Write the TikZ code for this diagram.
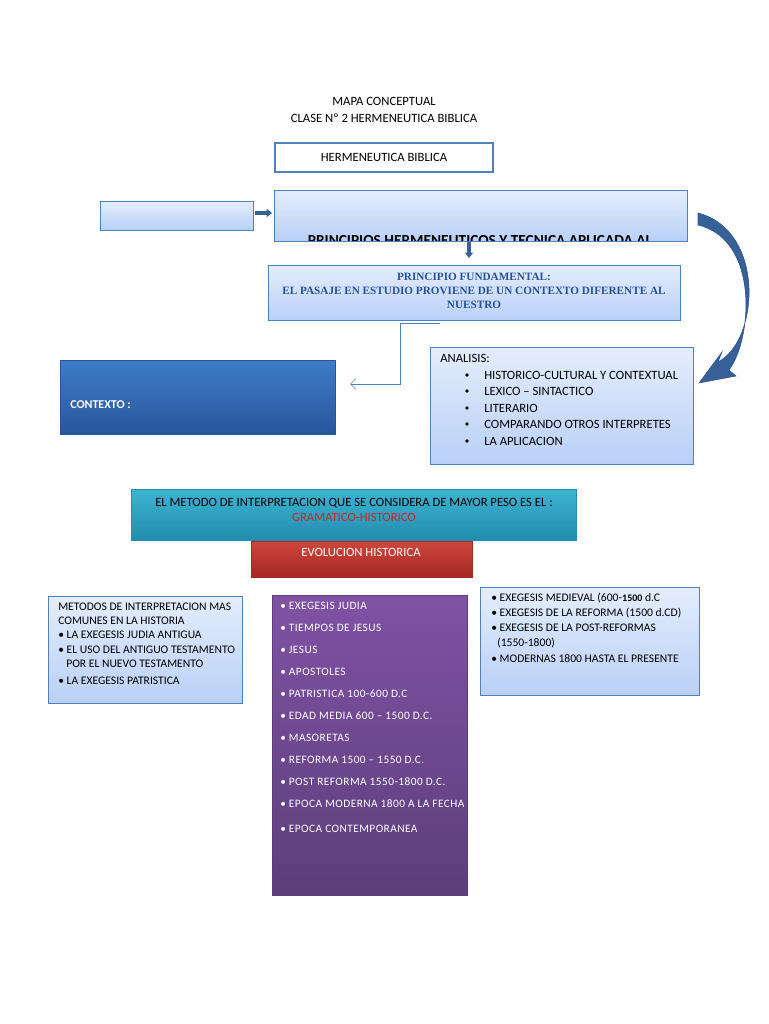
\documentclass[tikz,border=0pt]{standalone}
\usepackage{fontspec}
\setmainfont{Carlito}
\newfontfamily\serifb{Liberation Serif}
\usetikzlibrary{arrows.meta}
\definecolor{bord}{RGB}{79,129,189}
\definecolor{lbt}{RGB}{228,237,253}
\definecolor{lbb}{RGB}{185,208,246}
\definecolor{darr}{RGB}{55,96,150}
\definecolor{pft}{RGB}{40,80,150}
\definecolor{ctt}{RGB}{62,125,200}
\definecolor{ctb}{RGB}{40,85,155}
\definecolor{tet}{RGB}{60,180,210}
\definecolor{teb}{RGB}{35,140,175}
\definecolor{ret}{RGB}{205,70,60}
\definecolor{reb}{RGB}{165,40,35}
\definecolor{put}{RGB}{128,82,165}
\definecolor{pub}{RGB}{92,62,122}
\definecolor{gred}{RGB}{200,40,40}
\begin{document}
\begin{tikzpicture}[x=0.75pt,y=-0.75pt,
 lb/.style={draw=bord,line width=0.6pt,top color=lbt,bottom color=lbb},
 txt/.style={font=\fontsize{9.5}{11}\selectfont,inner sep=0pt},
 bul/.style={txt,anchor=west}]
\useasboundingbox (0,0) rectangle (768,1024);
\node[txt] (t1) at (384,101) {MAPA CONCEPTUAL};
\node[txt] (t2) at (384,118) {CLASE Nº 2 HERMENEUTICA BIBLICA};
% hermeneutica
\draw[draw=bord,line width=1.3pt,fill=white] (275,143) rectangle (493,172);
\node[txt] (hb) at (384,157) {HERMENEUTICA BIBLICA};
% small left box
\draw[lb] (100,201) rectangle (253,230);
\coordinate (sl) at (255,213); \coordinate (sr) at (272,213);
\draw[line width=2.4pt,darr,-{Triangle[length=4pt,width=6pt]}] (sl) -- (sr);
% principios
\draw[lb] (274,190) rectangle (687,241);
\begin{scope}
\clip (274,190) rectangle (687,240);
\node[font=\fontsize{11.5}{12}\selectfont\bfseries,inner sep=0pt] (pr) at (480,241) {PRINCIPIOS HERMENEUTICOS Y TECNICA APLICADA AL};
\end{scope}
\coordinate (d1) at (469,242); \coordinate (d2) at (469,258);
\draw[line width=2.4pt,darr,-{Triangle[length=4pt,width=6pt]}] (d1) -- (d2);
% principio fundamental
\draw[lb] (268,265) rectangle (680,320);
\node[align=center,font=\serifb\fontsize{8.4}{10.5}\selectfont\bfseries,text=pft,inner sep=0pt] (pf) at (474,291) {PRINCIPIO FUNDAMENTAL:\\EL PASAJE EN ESTUDIO PROVIENE DE UN CONTEXTO DIFERENTE AL\\NUESTRO};
% connector
\coordinate (c0) at (440,323); \coordinate (c1) at (350,384);
\draw[bord,line width=0.5pt,-{Straight Barb[length=4pt]}] (c0) -- (400,323) -- (400,384) -- (c1);
% contexto
\draw[draw=ctb,line width=0.6pt,top color=ctt,bottom color=ctb] (60,360) rectangle (335,434);
\node[txt,anchor=west,text=white,font=\fontsize{9}{10}\selectfont\bfseries] (ctx) at (70,405) {CONTEXTO :};
% analisis
\draw[lb] (430,347) rectangle (693,464);
\node[bul] (a0) at (440,358) {ANALISIS:};
\foreach \y/\t in {375/HISTORICO-CULTURAL Y CONTEXTUAL,391/LEXICO -- SINTACTICO,408/LITERARIO,424/COMPARANDO OTROS INTERPRETES,441/LA APLICACION}{
 \fill (467,\y) circle (1.8);
 \node[bul] at (484,\y) {\t};}
% curved block arrow
\fill[darr,draw=ctb,line width=0.4pt]
 (698,213) .. controls (765,230) and (760,340) .. (718,362)
 -- (722,352) -- (699,383) -- (736,376) -- (729,370)
 .. controls (752,340) and (760,240) .. (698,225) -- cycle;
% teal
\draw[draw=teb,line width=0.6pt,top color=tet,bottom color=teb] (131,489) rectangle (576,540);
\node[txt] (m1) at (354,503) {EL METODO DE INTERPRETACION QUE SE CONSIDERA DE MAYOR PESO ES EL :};
\node[txt,text=gred] (m2) at (354,517) {GRAMATICO-HISTORICO};
% red
\draw[draw=reb,line width=0.6pt,top color=ret,bottom color=reb] (251,541) rectangle (472,577);
\node[txt,text=white] (ev) at (361,552) {EVOLUCION HISTORICA};
% left box
\draw[lb] (48,596) rectangle (242,703);
\begin{scope}[bul/.append style={font=\fontsize{8.7}{10}\selectfont}]
\node[bul] at (58,607) {METODOS DE INTERPRETACION MAS};
\node[bul] at (58,621) {COMUNES EN LA HISTORIA};
\node[bul] at (58,635) {\textbullet\ LA EXEGESIS JUDIA ANTIGUA};
\node[bul] at (58,650) {\textbullet\ EL USO DEL ANTIGUO TESTAMENTO};
\node[bul] at (66,664) {POR EL NUEVO TESTAMENTO};
\node[bul] at (58,681) {\textbullet\ LA EXEGESIS PATRISTICA};
\end{scope}
% purple
\draw[draw=pub,line width=0.6pt,top color=put,bottom color=pub] (272,595) rectangle (467,895);
\foreach \y/\t in {606/EXEGESIS JUDIA,628/TIEMPOS DE JESUS,650/JESUS,672/APOSTOLES,694/PATRISTICA 100-600 D.C,716/EDAD MEDIA 600 -- 1500 D.C.,738/MASORETAS,760/REFORMA 1500 -- 1550 D.C.,782/POST REFORMA 1550-1800 D.C.,804/EPOCA MODERNA 1800 A LA FECHA,829/EPOCA CONTEMPORANEA}{
 \node[bul,text=white,font=\fontsize{8.5}{10}\selectfont\addfontfeatures{LetterSpace=4}] at (280,\y) {\textbullet\ \t};}
% right box
\draw[lb] (480,587) rectangle (699,695);
\begin{scope}[bul/.append style={font=\fontsize{8.7}{10}\selectfont}]
\node[bul] at (491,598) {\textbullet\ EXEGESIS MEDIEVAL (600-{\fontsize{7.5}{8}\selectfont\bfseries 1500} d.C};
\node[bul] at (491,613) {\textbullet\ EXEGESIS DE LA REFORMA (1500 d.CD)};
\node[bul] at (491,628) {\textbullet\ EXEGESIS DE LA POST-REFORMAS};
\node[bul] at (497,643) {(1550-1800)};
\node[bul] at (491,659) {\textbullet\ MODERNAS 1800 HASTA EL PRESENTE};
\end{scope}
\end{tikzpicture}
\end{document}
